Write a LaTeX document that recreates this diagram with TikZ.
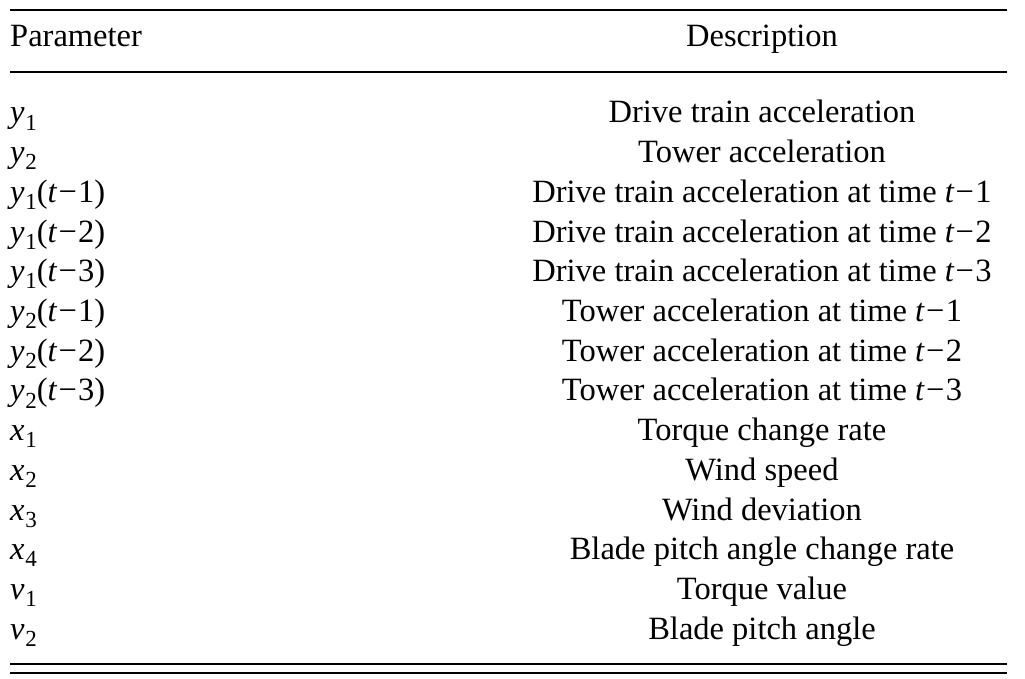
\documentclass[tikz,border=0pt]{standalone}
\usepackage{fontspec}
\setmainfont{Liberation Serif}
\newcommand{\vr}[2]{\textit{#1}\kern0.02em\raisebox{-0.22em}{\fontsize{23}{25}\selectfont #2}}
\newcommand{\mi}{\kern0.04em−\kern0.04em}
\begin{document}
\begin{tikzpicture}[x=1pt,y=-1pt,
  cell/.style={inner sep=0pt,font=\fontsize{32.5}{36}\selectfont},
  lft/.style={cell,anchor=base west},
  ctr/.style={cell,anchor=base},
  rule/.style={line width=1.8pt}]
\useasboundingbox (0,0) rectangle (1025,679);
\draw[rule] (10,10) -- (1007,10);
\draw[rule] (10,72) -- (1007,72);
\draw[rule] (10,664) -- (1007,664);
\draw[rule] (10,673) -- (1007,673);
\node[lft] (h1) at (10,47) {Parameter};
\node[ctr] (h2) at (762,47) {Description};
\foreach \i/\p/\d in {
 0/{\vr{y}{1}}/{Drive train acceleration},
 1/{\vr{y}{2}}/{Tower acceleration},
 2/{\vr{y}{1}(\textit{t}\mi1)}/{Drive train acceleration at time \textit{t}\mi1},
 3/{\vr{y}{1}(\textit{t}\mi2)}/{Drive train acceleration at time \textit{t}\mi2},
 4/{\vr{y}{1}(\textit{t}\mi3)}/{Drive train acceleration at time \textit{t}\mi3},
 5/{\vr{y}{2}(\textit{t}\mi1)}/{Tower acceleration at time \textit{t}\mi1},
 6/{\vr{y}{2}(\textit{t}\mi2)}/{Tower acceleration at time \textit{t}\mi2},
 7/{\vr{y}{2}(\textit{t}\mi3)}/{Tower acceleration at time \textit{t}\mi3},
 8/{\vr{x}{1}}/{Torque change rate},
 9/{\vr{x}{2}}/{Wind speed},
 10/{\vr{x}{3}}/{Wind deviation},
 11/{\vr{x}{4}}/{Blade pitch angle change rate},
 12/{\vr{v}{1}}/{Torque value},
 13/{\vr{v}{2}}/{Blade pitch angle}} {
  \node[lft] (p\i) at (10,123+39.7*\i) {\p};
  \node[ctr] (d\i) at (762,123+39.7*\i) {\d};
}
\end{tikzpicture}
\end{document}
